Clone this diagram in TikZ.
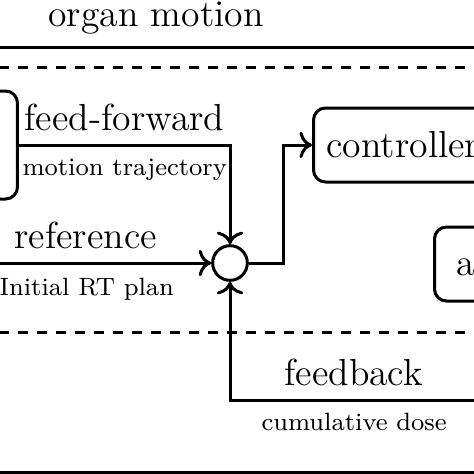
\documentclass[tikz,border=0pt]{standalone}
\usetikzlibrary{arrows.meta}
\begin{document}
\begin{tikzpicture}[x=0.3pt,y=-0.3pt, line width=0.9pt,
  big/.style={font=\fontsize{11.3}{14}\selectfont, inner sep=0pt, anchor=base west},
  small/.style={font=\fontsize{7.5}{9}\selectfont, inner sep=0pt, anchor=base west},
  blk/.style={draw, rounded corners=3.6pt, line width=0.9pt, font=\fontsize{11.3}{14}\selectfont, anchor=west},
  flow/.style={-{To[scale=1.05]}},
  bound/.style={line width=0.9pt},
  zone/.style={line width=0.9pt, dash pattern=on 3pt off 2.7pt}]
\useasboundingbox (0,0) rectangle (474,474);
% boundaries
\draw[bound] (-20,47) -- (494,47);
\draw[zone] (-1,67) -- (494,67);
\draw[zone] (-1,332) -- (494,332);
\draw[bound] (-20,472) -- (494,472);
% blocks
\node[blk, minimum width=22.8pt, minimum height=32.4pt] (plan) at (-60,145) {};
\node[blk, minimum height=22.2pt, inner xsep=3.9pt, text width=90pt] (ctrl) at (312,145) {controller};
\node[blk, minimum height=22.2pt, inner xsep=6.6pt, text width=60pt] (act) at (433,264) {actuator};
\node[draw, circle, inner sep=0pt, minimum size=10.4pt] (sum) at (230,263) {};
% labels
\node[big] (lorgan) at (47,26) {organ motion};
\node[big] (lff) at (23,130) {feed-forward};
\node[small] (lmt) at (21,175) {motion trajectory};
\node[big] (lref) at (13,248) {reference};
\node[small] (lrt) at (-2,295) {Initial RT plan};
\node[big] (lfb) at (283,385) {feedback};
\node[small] (lcd) at (260,430) {cumulative dose};
% connectors
\coordinate (refin) at (-20,263);
\coordinate (fbin) at (500,400);
\draw[flow] (plan.east) -- (plan.east -| sum) -- (sum.north);
\draw[flow] (refin) -- (sum.west);
\draw[flow] (sum.east) -- (283,263) -- (283,145) -- (ctrl.west);
\draw[flow] (fbin) -- (fbin -| sum) -- (sum.south);
\end{tikzpicture}
\end{document}
